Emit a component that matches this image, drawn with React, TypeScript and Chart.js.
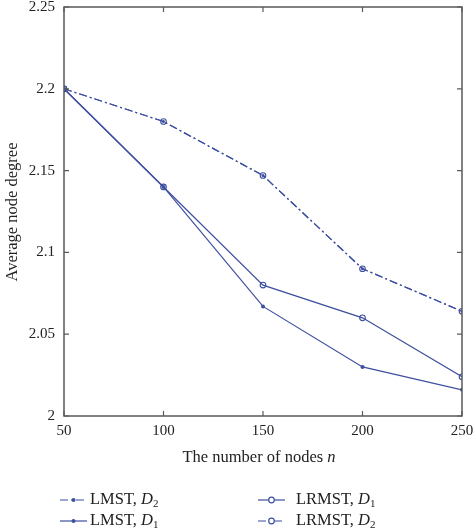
import React, { useEffect, useRef } from "react";
import { Chart, registerables } from "chart.js";

Chart.register(...registerables);

const nodes = [50, 100, 150, 200, 250];
const lmstD2 = [2.2, 2.18, 2.147, 2.09, 2.064];
const lmstD1 = [2.2, 2.14, 2.067, 2.03, 2.016];
const lrmstD1 = [2.2, 2.14, 2.08, 2.06, 2.024];
const lrmstD2 = [2.2, 2.18, 2.147, 2.09, 2.064];
const yTicks = [2, 2.05, 2.1, 2.15, 2.2, 2.25];
const xTicks = [50, 100, 150, 200, 250];

const BLUE = "#3d4f9f";
const FRAME = "#5a5a5a";
const FONT = "'Liberation Serif', 'DejaVu Serif', serif";
const DASHDOT = [8, 3, 2, 3];
const TITLE_SIZE = 16.5;

const pts = (vals: number[]) => vals.map((v, i) => ({ x: nodes[i], y: v }));

const legendItems = [
  { name: "LMST, ", sub: "2", dash: DASHDOT, marker: "dot", col: 0, row: 0 },
  { name: "LMST, ", sub: "1", dash: [], marker: "dot", col: 0, row: 1 },
  { name: "LRMST, ", sub: "1", dash: [], marker: "circle", col: 1, row: 0 },
  { name: "LRMST, ", sub: "2", dash: DASHDOT, marker: "circle", col: 1, row: 1 },
];

const decor = {
  id: "decor",
  afterDraw(chart: any) {
    const ctx = chart.ctx;
    const a = chart.chartArea;
    const xs = chart.scales.x;
    const ys = chart.scales.y;
    ctx.save();
    ctx.strokeStyle = FRAME;
    ctx.lineWidth = 1.5;
    ctx.strokeRect(a.left, a.top, a.right - a.left, a.bottom - a.top);
    ctx.lineWidth = 1.2;
    const tl = 5;
    ctx.beginPath();
    xTicks.forEach((t) => {
      const px = xs.getPixelForValue(t);
      ctx.moveTo(px, a.bottom);
      ctx.lineTo(px, a.bottom - tl);
      ctx.moveTo(px, a.top);
      ctx.lineTo(px, a.top + tl);
    });
    yTicks.forEach((t) => {
      const py = ys.getPixelForValue(t);
      ctx.moveTo(a.left, py);
      ctx.lineTo(a.left + tl, py);
      ctx.moveTo(a.right, py);
      ctx.lineTo(a.right - tl, py);
    });
    ctx.stroke();

    ctx.fillStyle = "#222";
    ctx.save();
    ctx.translate(13, 212);
    ctx.rotate(-Math.PI / 2);
    ctx.font = `${TITLE_SIZE}px ${FONT}`;
    ctx.textAlign = "center";
    ctx.textBaseline = "middle";
    ctx.fillText("Average node degree", 0, 0);
    ctx.restore();

    ctx.textBaseline = "middle";
    ctx.textAlign = "left";
    const t1 = "The number of nodes ";
    ctx.font = `${TITLE_SIZE}px ${FONT}`;
    const w1 = ctx.measureText(t1).width;
    ctx.font = `italic ${TITLE_SIZE}px ${FONT}`;
    const w2 = ctx.measureText("n").width;
    const cx = 259;
    const sx = cx - (w1 + w2) / 2;
    const ty = 458;
    ctx.font = `${TITLE_SIZE}px ${FONT}`;
    ctx.fillText(t1, sx, ty);
    ctx.font = `italic ${TITLE_SIZE}px ${FONT}`;
    ctx.fillText("n", sx + w1, ty);

    legendItems.forEach((it) => {
      const lx = it.col === 0 ? 60 : 258;
      const ly = it.row === 0 ? 500 : 521;
      ctx.strokeStyle = BLUE;
      ctx.lineWidth = 1.2;
      ctx.setLineDash(it.dash);
      ctx.beginPath();
      ctx.moveTo(lx, ly);
      ctx.lineTo(lx + 27, ly);
      ctx.stroke();
      ctx.setLineDash([]);
      ctx.beginPath();
      if (it.marker === "dot") {
        ctx.fillStyle = BLUE;
        ctx.arc(lx + 13.5, ly, 2, 0, Math.PI * 2);
        ctx.fill();
      } else {
        ctx.fillStyle = "#fff";
        ctx.arc(lx + 13.5, ly, 2.8, 0, Math.PI * 2);
        ctx.fill();
        ctx.stroke();
      }
      ctx.fillStyle = "#222";
      const tx = lx + (it.col === 0 ? 30 : 38);
      ctx.font = `${TITLE_SIZE}px ${FONT}`;
      ctx.fillText(it.name, tx, ly);
      const wn = ctx.measureText(it.name).width;
      ctx.font = `italic ${TITLE_SIZE}px ${FONT}`;
      ctx.fillText("D", tx + wn, ly);
      const wd = ctx.measureText("D").width;
      ctx.font = `11px ${FONT}`;
      ctx.fillText(it.sub, tx + wn + wd, ly + 4);
    });
    ctx.restore();
  },
};

export default function App() {
  const ref = useRef<HTMLCanvasElement>(null);
  useEffect(() => {
    if (!ref.current) return;
    const chart = new Chart(ref.current, {
      type: "line",
      data: {
        datasets: [
          {
            label: "LMST, D2",
            data: pts(lmstD2),
            borderColor: BLUE,
            backgroundColor: BLUE,
            borderWidth: 1.2,
            borderDash: DASHDOT,
            pointRadius: 1.5,
            pointBorderWidth: 0,
            pointBackgroundColor: BLUE,
          },
          {
            label: "LMST, D1",
            data: pts(lmstD1),
            borderColor: BLUE,
            backgroundColor: BLUE,
            borderWidth: 1.2,
            pointRadius: 2,
            pointBorderWidth: 0,
            pointBackgroundColor: BLUE,
          },
          {
            label: "LRMST, D1",
            data: pts(lrmstD1),
            borderColor: BLUE,
            borderWidth: 1.2,
            pointRadius: 2.8,
            pointBorderWidth: 1.1,
            pointBorderColor: BLUE,
            pointBackgroundColor: "rgba(0,0,0,0)",
          },
          {
            label: "LRMST, D2",
            data: pts(lrmstD2),
            borderColor: BLUE,
            borderWidth: 1.2,
            borderDash: DASHDOT,
            pointRadius: 2.8,
            pointBorderWidth: 1.1,
            pointBorderColor: BLUE,
            pointBackgroundColor: "rgba(0,0,0,0)",
          },
        ],
      },
      options: {
        animation: false,
        responsive: true,
        maintainAspectRatio: false,
        layout: { padding: { top: 7, right: 12, left: 0, bottom: 0 } },
        plugins: { legend: { display: false }, tooltip: { enabled: false } },
        scales: {
          x: {
            type: "linear",
            min: 50,
            max: 250,
            border: { display: false },
            grid: { display: false, drawTicks: false },
            afterBuildTicks: (s: any) => {
              s.ticks = xTicks.map((v) => ({ value: v }));
            },
            afterFit: (s: any) => {
              s.height = 114;
              s.paddingLeft = 0;
              s.paddingRight = 0;
            },
            ticks: {
              padding: 6,
              color: "#222",
              font: { family: FONT, size: 15 },
              maxRotation: 0,
              callback: (v: any) => String(v),
            },
          },
          y: {
            type: "linear",
            min: 2,
            max: 2.25,
            border: { display: false },
            grid: { display: false, drawTicks: false },
            afterBuildTicks: (s: any) => {
              s.ticks = yTicks.map((v) => ({ value: v }));
            },
            afterFit: (s: any) => {
              s.width = 64;
              s.paddingTop = 0;
              s.paddingBottom = 0;
            },
            ticks: {
              padding: 9,
              color: "#222",
              font: { family: FONT, size: 15 },
              callback: (v: any) => String(+Number(v).toFixed(2)),
            },
          },
        },
      },
      plugins: [decor],
    });
    return () => chart.destroy();
  }, []);
  return (
    <div style={{ position: "fixed", left: 0, top: 0, width: 474, height: 530, background: "#fff" }}>
      <canvas ref={ref} />
    </div>
  );
}
